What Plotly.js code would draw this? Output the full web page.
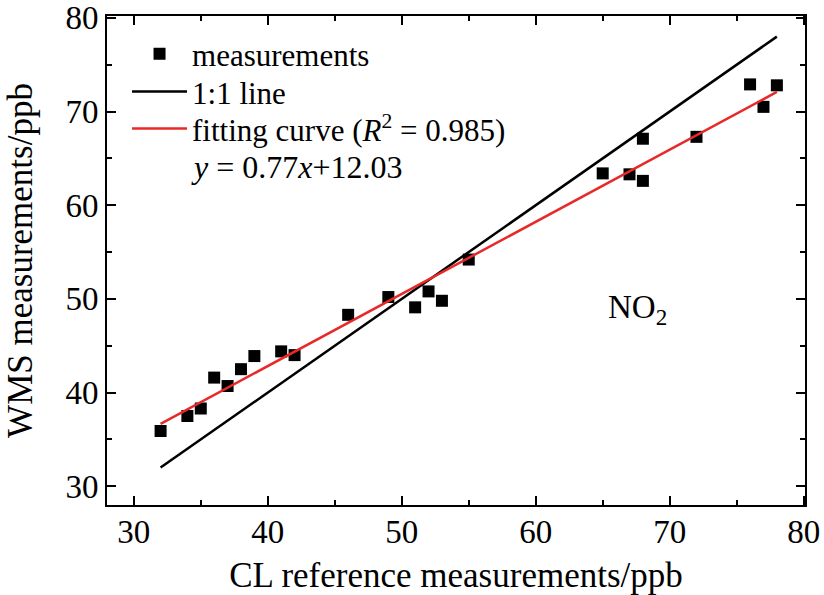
<!DOCTYPE html>
<html>
<head>
<meta charset="utf-8">
<script src="https://cdn.plot.ly/plotly-3.0.1.min.js"></script>
<style>
  html, body { margin: 0; padding: 0; background: #fff; }
  #chart { width: 824px; height: 595px; }
</style>
</head>
<body>
<div id="chart"></div>
<script>
// NO2: WMS readings against CL reference readings (ppb)
const clReference = [32, 34, 35, 36, 37, 38, 39, 41, 42, 46, 49, 51, 52, 53, 55, 65, 67, 68, 68, 72, 76, 77, 78];
const wmsReading  = [35.9, 37.5, 38.3, 41.6, 40.7, 42.5, 43.9, 44.4, 44.0, 48.3, 50.2, 49.1, 50.8, 49.8, 54.2, 63.4, 63.3, 62.6, 67.1, 67.3, 72.9, 70.5, 72.8];

// linear fit y = slope*x + intercept
const slope = 0.77;
const intercept = 12.03;
const rSquared = 0.985;

const lineX = [Math.min(...clReference), Math.max(...clReference)];
const oneToOneY = lineX.map(v => v);
const fitY = lineX.map(v => slope * v + intercept);

const serif = '"Liberation Serif", "DejaVu Serif", serif';
const legendFont = { family: serif, size: 31, color: '#000' };

const traces = [
  {
    x: clReference, y: wmsReading,
    mode: 'markers', type: 'scatter',
    name: 'measurements', legend: 'legend',
    marker: { symbol: 'square', size: 12, color: '#000' }
  },
  {
    x: lineX, y: oneToOneY,
    mode: 'lines', type: 'scatter',
    name: '1:1 line', legend: 'legend2',
    line: { color: '#000', width: 2.5 }
  },
  {
    x: lineX, y: fitY,
    mode: 'lines', type: 'scatter',
    name: 'fitting curve (<i>R</i><sup>2</sup> = ' + rSquared.toFixed(3) + ')', legend: 'legend3',
    line: { color: '#e8292a', width: 2.5 }
  }
];

const axisCommon = {
  showgrid: false, zeroline: false,
  showline: true, linecolor: '#000', linewidth: 2, mirror: 'allticks',
  ticks: 'inside', ticklen: 9, tickwidth: 2, tickcolor: '#000',
  tickfont: { family: serif, size: 33, color: '#000' },
  minor: { ticks: 'inside', ticklen: 5, tickwidth: 2, tickcolor: '#000', dtick: 5 }
};

// one legend box per row so the rows sit close together
function legendRow(y) {
  return {
    x: 0.0287, y: y, xanchor: 'left', yanchor: 'middle',
    bgcolor: 'rgba(0,0,0,0)', borderwidth: 0,
    font: legendFont, itemwidth: 55
  };
}

const layout = {
  width: 824, height: 595,
  margin: { l: 107, r: 19, t: 16, b: 90 },
  paper_bgcolor: '#fff', plot_bgcolor: '#fff',
  font: { family: serif, size: 32, color: '#000' },
  xaxis: Object.assign({}, axisCommon, {
    range: [28, 80.1], dtick: 10, tick0: 0, ticklabelstandoff: -4,
    title: { text: 'CL reference measurements/ppb', font: { family: serif, size: 35 }, standoff: 14 }
  }),
  yaxis: Object.assign({}, axisCommon, {
    range: [28, 80.2], dtick: 10, tick0: 0,
    title: { text: 'WMS measurements/ppb', font: { family: serif, size: 35 }, standoff: 22 }
  }),
  showlegend: true,
  legend: legendRow(0.922),
  legend2: legendRow(0.845),
  legend3: legendRow(0.769),
  annotations: [
    {
      xref: 'paper', yref: 'paper', x: 0.117, y: 0.691, xanchor: 'left', yanchor: 'middle',
      text: '<i>y</i> = ' + slope.toFixed(2) + '<i>x</i>+' + intercept.toFixed(2),
      showarrow: false, font: { family: serif, size: 32, color: '#000' }
    },
    {
      xref: 'x', yref: 'y', x: 67.6, y: 48.9, xanchor: 'center', yanchor: 'middle',
      text: 'NO<sub>2</sub>',
      showarrow: false, font: { family: serif, size: 33, color: '#000' }
    }
  ]
};

Plotly.newPlot('chart', traces, layout, { staticPlot: true, displayModeBar: false });
</script>
</body>
</html>
